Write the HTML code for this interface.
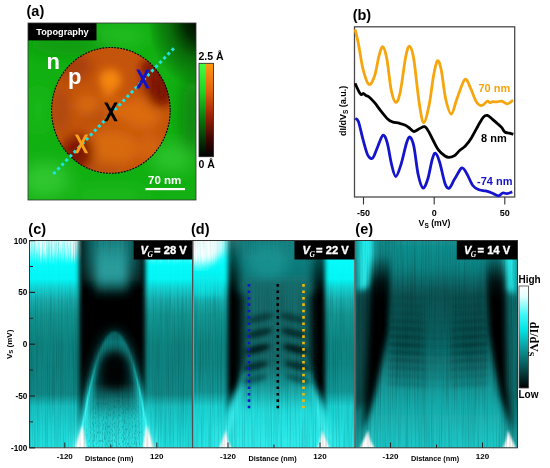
<!DOCTYPE html>
<html><head><meta charset="utf-8"><style>
html,body{margin:0;padding:0;background:#fff;}
body{width:550px;height:468px;overflow:hidden;}
svg{display:block;}
</style></head><body>
<svg width="550" height="468" viewBox="0 0 550 468">
<defs>
<filter id="streak" x="0" y="0" width="100%" height="100%">
  <feTurbulence type="fractalNoise" baseFrequency="0.7 0.012" numOctaves="2" seed="3" result="n"/>
  <feColorMatrix in="n" type="matrix" values="0 0 0 0 0  0 0 0 0 0  0 0 0 0 0  0 0 0 -2.2 1.35"/>
</filter>
<filter id="streakw" x="0" y="0" width="100%" height="100%">
  <feTurbulence type="fractalNoise" baseFrequency="0.6 0.02" numOctaves="2" seed="7" result="n"/>
  <feColorMatrix in="n" type="matrix" values="0 0 0 0 1  0 0 0 0 1  0 0 0 0 1  0 0 0 3.0 -1.4"/>
</filter>
<filter id="b1" x="-60%" y="-60%" width="220%" height="220%"><feGaussianBlur stdDeviation="1"/></filter>
<filter id="b2" x="-60%" y="-60%" width="220%" height="220%"><feGaussianBlur stdDeviation="2"/></filter>
<filter id="b3" x="-60%" y="-60%" width="220%" height="220%"><feGaussianBlur stdDeviation="3"/></filter>
<filter id="b4" x="-60%" y="-60%" width="220%" height="220%"><feGaussianBlur stdDeviation="4"/></filter>
<filter id="b6" x="-60%" y="-60%" width="220%" height="220%"><feGaussianBlur stdDeviation="6"/></filter>
<filter id="b8" x="-60%" y="-60%" width="220%" height="220%"><feGaussianBlur stdDeviation="8"/></filter>
<filter id="b12" x="-60%" y="-60%" width="220%" height="220%"><feGaussianBlur stdDeviation="12"/></filter>
<clipPath id="clipA"><rect x="28" y="23" width="168" height="177"/></clipPath>
<clipPath id="clipCirc"><ellipse cx="110.9" cy="110.4" rx="59.3" ry="62.9"/></clipPath>
<clipPath id="clipC"><rect x="29.5" y="240.5" width="162.5" height="207"/></clipPath>
<clipPath id="clipD"><rect x="193.5" y="240.5" width="161" height="207"/></clipPath>
<clipPath id="clipE"><rect x="355.5" y="240.5" width="162" height="207"/></clipPath>
<linearGradient id="cbG" x1="0" y1="0" x2="0" y2="1">
  <stop offset="0" stop-color="#44ff44"/><stop offset="0.3" stop-color="#20d420"/><stop offset="0.6" stop-color="#0a760a"/><stop offset="1" stop-color="#000"/>
</linearGradient>
<linearGradient id="cbO" x1="0" y1="0" x2="0" y2="1">
  <stop offset="0" stop-color="#ff9a10"/><stop offset="0.3" stop-color="#e06010"/><stop offset="0.55" stop-color="#a02408"/><stop offset="0.8" stop-color="#420604"/><stop offset="1" stop-color="#000"/>
</linearGradient>
<linearGradient id="cbC" x1="0" y1="0" x2="0" y2="1">
  <stop offset="0" stop-color="#ffffff"/><stop offset="0.1" stop-color="#e4ffff"/><stop offset="0.28" stop-color="#40f8f8"/><stop offset="0.42" stop-color="#04e6e6"/><stop offset="0.62" stop-color="#0c9696"/><stop offset="0.82" stop-color="#064a4a"/><stop offset="1" stop-color="#000"/>
</linearGradient>
<radialGradient id="gcorner" cx="0.5" cy="0.5" r="0.5">
  <stop offset="0" stop-color="#000" stop-opacity="1"/><stop offset="0.3" stop-color="#010" stop-opacity="0.85"/><stop offset="0.6" stop-color="#020" stop-opacity="0.45"/><stop offset="1" stop-color="#000" stop-opacity="0"/>
</radialGradient>
</defs>
<text x="26.5" y="16.4" font-family="'Liberation Sans', Arial, sans-serif" font-size="14.5" font-weight="bold">(a)</text>
<g clip-path="url(#clipA)">
<rect x="28" y="23" width="168" height="177" fill="#12b012"/>
<g filter="url(#b8)">
<ellipse cx="70" cy="45" rx="45" ry="10" fill="#0b960b" opacity="0.9"/>
<ellipse cx="120" cy="36" rx="28" ry="8" fill="#2ac42a" opacity="0.8"/>
<ellipse cx="45" cy="180" rx="25" ry="18" fill="#3acc3a" opacity="0.8"/>
<ellipse cx="110" cy="195" rx="40" ry="6" fill="#28c228" opacity="0.7"/>
<ellipse cx="172" cy="158" rx="22" ry="14" fill="#34c834" opacity="0.8"/>
<ellipse cx="192" cy="115" rx="10" ry="40" fill="#087808" opacity="0.85"/>
<ellipse cx="38" cy="110" rx="10" ry="25" fill="#1cbc1c" opacity="0.7"/>
</g>
<ellipse cx="200" cy="20" rx="52" ry="68" fill="url(#gcorner)"/>
<ellipse cx="110.9" cy="110.4" rx="59.3" ry="62.9" fill="#c4540c"/>
<g clip-path="url(#clipCirc)"><g filter="url(#b6)">
<ellipse cx="72" cy="66" rx="20" ry="14" fill="#a8400c"/>
<ellipse cx="60" cy="110" rx="10" ry="24" fill="#b04a0c"/>
<ellipse cx="93" cy="113" rx="14" ry="6" fill="#a8420c"/>
<ellipse cx="88" cy="105" rx="12" ry="10" fill="#d86a10"/>
<ellipse cx="142" cy="113" rx="20" ry="16" fill="#dc6a10"/>
<ellipse cx="118" cy="110" rx="12" ry="9" fill="#dc6c10"/>
<ellipse cx="112" cy="148" rx="26" ry="18" fill="#d86a10"/>
<ellipse cx="150" cy="148" rx="12" ry="14" fill="#d46410"/>
<ellipse cx="100" cy="168" rx="24" ry="6" fill="#b85010"/>
<ellipse cx="160" cy="84" rx="16" ry="24" fill="#801604"/>
<ellipse cx="78" cy="152" rx="16" ry="17" fill="#801604"/>
</g><g filter="url(#b4)">
<ellipse cx="110.2" cy="80" rx="11" ry="11" fill="#f5880f"/>
<ellipse cx="108" cy="92" rx="6" ry="6" fill="#ec7c10"/>
<ellipse cx="162" cy="90" rx="6" ry="12" fill="#7a1604"/>
<ellipse cx="150" cy="68" rx="9" ry="8" fill="#7e1805"/>
<ellipse cx="76" cy="155" rx="6" ry="7" fill="#7a1604"/>
</g></g>
<ellipse cx="110.9" cy="110.4" rx="59.3" ry="62.9" fill="none" stroke="#000" stroke-width="1.1" stroke-dasharray="1.8 1.2"/>
<line x1="53.4" y1="174" x2="175.1" y2="46.9" stroke="#1fe3e3" stroke-width="3" stroke-dasharray="3 2.9"/>
<polygon points="74.8,134.5 78.1,134.5 88.2,153.3 84.9,153.3" fill="#f6a21c"/><polygon points="84.9,134.5 88.2,134.5 78.1,153.3 74.8,153.3" fill="#f6a21c"/>
<polygon points="104.2,102.4 107.5,102.4 117.7,121.2 114.3,121.2" fill="#000"/><polygon points="114.3,102.4 117.7,102.4 107.5,121.2 104.2,121.2" fill="#000"/>
<polygon points="136.2,69.6 139.6,69.6 149.8,88.4 146.4,88.4" fill="#1212c8"/><polygon points="146.4,69.6 149.8,69.6 139.6,88.4 136.2,88.4" fill="#1212c8"/>
<text x="46.5" y="69.2" font-family="'Liberation Sans', Arial, sans-serif" font-size="22" font-weight="bold" fill="#fff">n</text>
<text x="68" y="83.8" font-family="'Liberation Sans', Arial, sans-serif" font-size="22" font-weight="bold" fill="#fff">p</text>
<text x="148" y="184" font-family="'Liberation Sans', Arial, sans-serif" font-size="11.5" font-weight="bold" fill="#fff">70 nm</text>
<rect x="145.5" y="188" width="39.5" height="2.2" fill="#fff"/>
<rect x="28" y="23" width="68.5" height="17.4" fill="#000"/>
<text x="36.3" y="35.3" font-family="'Liberation Sans', Arial, sans-serif" font-size="9.2" font-weight="bold" fill="#fff">Topography</text>
</g>
<rect x="28" y="23" width="168" height="177" fill="none" stroke="#333" stroke-width="0.8"/>
<rect x="199" y="63.3" width="7" height="93.4" fill="url(#cbG)"/>
<rect x="206" y="63.3" width="7.5" height="93.4" fill="url(#cbO)"/>
<rect x="199" y="63.3" width="14.5" height="93.4" fill="none" stroke="#222" stroke-width="0.8"/>
<text x="198.5" y="60" font-family="'Liberation Sans', Arial, sans-serif" font-size="10.5" font-weight="bold">2.5 Å</text>
<text x="198.5" y="167.5" font-family="'Liberation Sans', Arial, sans-serif" font-size="10.5" font-weight="bold">0 Å</text>
<text x="352.7" y="20.2" font-family="'Liberation Sans', Arial, sans-serif" font-size="14.5" font-weight="bold">(b)</text>
<rect x="354.5" y="26.8" width="160.2" height="170.2" fill="#fff" stroke="#4a4a4a" stroke-width="1.3"/>
<line x1="363.5" y1="197" x2="363.5" y2="204.5" stroke="#333" stroke-width="1.1"/>
<text x="363.5" y="216.4" text-anchor="middle" font-family="'Liberation Sans', Arial, sans-serif" font-size="9" font-weight="bold">-50</text>
<line x1="434.2" y1="197" x2="434.2" y2="204.5" stroke="#333" stroke-width="1.1"/>
<text x="434.2" y="216.4" text-anchor="middle" font-family="'Liberation Sans', Arial, sans-serif" font-size="9" font-weight="bold">0</text>
<line x1="504.8" y1="197" x2="504.8" y2="204.5" stroke="#333" stroke-width="1.1"/>
<text x="504.8" y="216.4" text-anchor="middle" font-family="'Liberation Sans', Arial, sans-serif" font-size="9" font-weight="bold">50</text>
<text x="418.6" y="226" font-family="'Liberation Sans', Arial, sans-serif" font-size="8.7" font-weight="bold">V<tspan font-size="6.5" dy="1.8">S</tspan><tspan dy="-1.8"> (mV)</tspan></text>
<text transform="translate(345.8,136) rotate(-90)" font-family="'Liberation Sans', Arial, sans-serif" font-size="9" font-weight="bold">dI/dV<tspan font-size="6.5" dy="1.8">S</tspan><tspan dy="-1.8"> (a.u.)</tspan></text>
<path d="M355.1,29.5 C355.7,32.1 357.4,38.5 358.7,45.2 C360.0,51.9 361.5,63.4 363.2,69.9 C364.9,76.4 366.9,83.3 368.8,84.4 C370.7,85.5 372.7,81.3 374.4,76.6 C376.1,71.9 377.5,61.4 378.9,56.4 C380.3,51.4 381.4,46.4 382.7,46.8 C384.0,47.2 385.4,51.4 386.8,58.6 C388.2,65.8 389.7,82.7 391.2,90.0 C392.7,97.3 394.2,102.0 395.7,102.4 C397.2,102.8 398.5,100.0 400.2,92.3 C401.9,84.6 404.2,64.1 405.8,56.4 C407.4,48.7 408.3,45.9 409.6,46.3 C410.9,46.7 412.1,49.1 413.7,58.6 C415.3,68.1 417.6,92.8 419.3,103.5 C421.0,114.2 422.1,122.6 423.8,122.6 C425.5,122.6 427.8,111.2 429.4,103.5 C431.0,95.8 432.1,83.7 433.4,76.6 C434.7,69.5 436.1,62.0 437.4,60.9 C438.7,59.8 439.8,63.4 441.2,69.8 C442.6,76.1 444.0,91.6 445.7,99.0 C447.4,106.4 449.4,114.2 451.3,114.2 C453.2,114.2 454.6,104.8 456.9,99.0 C459.1,93.2 462.6,81.4 464.8,79.5 C467.1,77.6 468.5,84.2 470.4,87.8 C472.3,91.4 474.1,98.2 476.0,101.2 C477.9,104.2 479.7,105.7 481.6,105.7 C483.5,105.7 485.8,101.7 487.2,101.2 C488.6,100.7 489.1,102.5 490.0,102.6 C490.9,102.7 491.6,101.8 492.8,101.7 C494.0,101.6 495.8,102.0 497.3,101.9 C498.8,101.8 500.0,100.9 501.7,101.2 C503.4,101.5 505.5,104.1 507.4,103.9 C509.3,103.7 512.1,100.7 513.0,100.1" fill="none" stroke="#f6a50c" stroke-width="2.8" stroke-linejoin="round"/>
<path d="M355.1,83.3 C355.5,84.2 356.6,87.0 357.6,88.9 C358.6,90.8 360.0,93.7 361.0,94.5 C362.0,95.3 362.7,93.3 363.5,93.5 C364.3,93.7 365.1,95.0 366.0,95.5 C366.9,96.0 367.4,95.6 368.8,96.8 C370.2,98.0 372.3,100.0 374.4,102.4 C376.5,104.8 378.9,108.5 381.2,111.3 C383.4,114.1 386.0,117.4 387.9,119.2 C389.8,121.0 390.5,121.2 392.4,121.9 C394.3,122.6 396.9,122.7 399.1,123.2 C401.3,123.8 403.6,124.3 405.4,125.2 C407.2,126.1 408.6,127.5 410.0,128.5 C411.4,129.6 412.3,131.4 413.9,131.5 C415.4,131.6 417.5,129.6 419.3,128.8 C421.1,128.0 423.0,126.2 424.6,126.7 C426.2,127.2 427.5,129.7 428.9,132.0 C430.3,134.3 431.6,137.5 433.2,140.5 C434.8,143.5 436.6,147.6 438.6,150.2 C440.6,152.8 443.2,154.8 445.0,156.0 C446.8,157.2 447.6,157.4 449.2,157.3 C450.8,157.2 452.8,156.8 454.6,155.6 C456.4,154.4 458.1,151.8 459.9,150.2 C461.7,148.6 463.3,148.1 465.3,146.0 C467.3,143.9 469.6,140.8 471.7,137.4 C473.8,134.0 476.2,129.1 478.1,125.7 C480.1,122.3 481.9,118.8 483.4,117.1 C484.9,115.4 485.9,115.1 487.3,115.4 C488.7,115.7 490.3,117.5 492.0,118.8 C493.7,120.1 495.7,122.1 497.3,123.5 C498.9,124.9 500.4,126.0 501.6,127.4 C502.9,128.8 503.6,131.1 504.8,132.0 C506.1,132.9 507.7,132.7 509.1,133.1 C510.5,133.5 512.7,134.0 513.4,134.2" fill="none" stroke="#000" stroke-width="2.8" stroke-linejoin="round"/>
<path d="M355.2,118.3 C355.7,118.8 357.1,118.1 358.4,121.4 C359.6,124.8 361.3,133.1 362.7,138.4 C364.1,143.7 365.9,150.2 367.0,153.4 C368.1,156.6 368.7,156.7 369.5,157.5 C370.3,158.3 371.2,158.8 372.0,158.5 C372.8,158.2 373.1,157.9 374.0,156.0 C374.9,154.1 376.1,150.5 377.6,147.0 C379.1,143.5 381.4,135.9 383.0,135.2 C384.6,134.5 385.8,137.9 387.2,142.7 C388.6,147.5 390.1,158.5 391.5,164.1 C392.9,169.7 394.2,176.5 395.8,176.5 C397.4,176.5 399.3,169.7 401.1,164.1 C402.9,158.5 405.1,147.2 406.6,142.7 C408.1,138.2 409.0,136.5 410.2,137.2 C411.4,137.9 412.7,140.7 414.0,147.0 C415.3,153.3 416.7,168.0 418.2,174.8 C419.7,181.6 421.3,187.3 422.9,188.0 C424.5,188.7 426.3,183.7 427.8,179.0 C429.3,174.3 430.9,164.1 432.1,159.8 C433.4,155.5 434.1,152.8 435.3,153.2 C436.6,153.6 438.0,157.0 439.6,162.0 C441.2,167.0 443.4,179.1 445.0,183.4 C446.6,187.8 447.6,188.8 449.2,188.1 C450.8,187.4 452.5,182.4 454.6,179.1 C456.7,175.8 459.7,169.1 461.6,168.0 C463.6,166.9 464.4,169.8 466.3,172.7 C468.2,175.6 470.7,182.7 472.8,185.5 C474.9,188.3 477.1,188.9 479.2,189.8 C481.3,190.7 483.5,190.4 485.6,190.9 C487.7,191.4 489.9,192.2 492.0,193.0 C494.1,193.8 496.6,195.8 498.4,195.8 C500.2,195.8 501.3,193.4 502.7,193.0 C504.1,192.6 505.4,193.8 507.0,193.6 C508.6,193.4 511.4,192.2 512.3,191.9" fill="none" stroke="#1414cc" stroke-width="2.8" stroke-linejoin="round"/>
<text x="478.5" y="92.3" font-family="'Liberation Sans', Arial, sans-serif" font-size="11" font-weight="bold" fill="#f6a50c">70 nm</text>
<text x="481" y="142" font-family="'Liberation Sans', Arial, sans-serif" font-size="11" font-weight="bold" fill="#000">8 nm</text>
<text x="477" y="185.3" font-family="'Liberation Sans', Arial, sans-serif" font-size="11" font-weight="bold" fill="#1414cc">-74 nm</text>
<defs>
<filter id="sk" x="0" y="0" width="100%" height="100%">
  <feTurbulence type="fractalNoise" baseFrequency="1.3 0.012" numOctaves="2" seed="5" result="n"/>
  <feColorMatrix in="n" type="matrix" values="0 0 0 0 0  0 0 0 0 0  0 0 0 0 0  2.0 0 0 0 -0.8"/>
</filter>
<filter id="skw" x="0" y="0" width="100%" height="100%">
  <feTurbulence type="fractalNoise" baseFrequency="1.0 0.03" numOctaves="2" seed="11" result="n"/>
  <feColorMatrix in="n" type="matrix" values="0 0 0 0 1  0 0 0 0 1  0 0 0 0 1  3.2 0 0 0 -1.3"/>
</filter>
<filter id="speck" x="0" y="0" width="100%" height="100%">
  <feTurbulence type="fractalNoise" baseFrequency="0.9 0.35" numOctaves="1" seed="2" result="n"/>
  <feColorMatrix in="n" type="matrix" values="0 0 0 0 0  0 0 0 0 0.1  0 0 0 0 0.1  5 0 0 0 -2.6"/>
</filter>
<linearGradient id="fadeTop" x1="0" y1="240.5" x2="0" y2="266" gradientUnits="userSpaceOnUse">
 <stop offset="0" stop-color="#fff"/><stop offset="0.5" stop-color="#fff" stop-opacity="0.7"/><stop offset="1" stop-color="#fff" stop-opacity="0"/>
</linearGradient>
<mask id="mTop" maskUnits="userSpaceOnUse" x="0" y="230" width="550" height="240"><rect x="0" y="230" width="550" height="40" fill="url(#fadeTop)"/></mask>
<linearGradient id="skFade" x1="0" y1="240.5" x2="0" y2="447.8" gradientUnits="userSpaceOnUse">
 <stop offset="0" stop-color="#fff" stop-opacity="0.5"/>
 <stop offset="0.09" stop-color="#fff" stop-opacity="0.05"/>
 <stop offset="0.19" stop-color="#fff" stop-opacity="0.05"/>
 <stop offset="0.29" stop-color="#fff" stop-opacity="0.6"/>
 <stop offset="1" stop-color="#fff" stop-opacity="0.6"/>
</linearGradient>
<mask id="mSk" maskUnits="userSpaceOnUse" x="0" y="230" width="550" height="240"><rect x="0" y="230" width="550" height="240" fill="url(#skFade)"/></mask>
<linearGradient id="bgC" x1="0" y1="240.5" x2="0" y2="447.8" gradientUnits="userSpaceOnUse">
 <stop offset="0" stop-color="#5ff8f8"/>
 <stop offset="0.09" stop-color="#06fcfc"/>
 <stop offset="0.185" stop-color="#04f6f6"/>
 <stop offset="0.23" stop-color="#12d2d2"/>
 <stop offset="0.29" stop-color="#18acac"/>
 <stop offset="0.36" stop-color="#129692"/>
 <stop offset="0.5" stop-color="#0e8480"/>
 <stop offset="0.6" stop-color="#0e8280"/>
 <stop offset="0.74" stop-color="#108886"/>
 <stop offset="0.8" stop-color="#18c0c0"/>
 <stop offset="0.9" stop-color="#1cd2d2"/>
 <stop offset="1" stop-color="#22e0e0"/>
</linearGradient>
<linearGradient id="speckFade" x1="0" y1="380" x2="0" y2="447.8" gradientUnits="userSpaceOnUse">
 <stop offset="0" stop-color="#fff" stop-opacity="0"/><stop offset="0.3" stop-color="#fff" stop-opacity="0.8"/><stop offset="1" stop-color="#fff" stop-opacity="1"/>
</linearGradient>
<mask id="mSpeck" maskUnits="userSpaceOnUse" x="0" y="370" width="550" height="90"><rect x="0" y="370" width="550" height="90" fill="url(#speckFade)"/></mask>
<linearGradient id="archIn" x1="0" y1="331" x2="0" y2="447.8" gradientUnits="userSpaceOnUse">
 <stop offset="0" stop-color="#0a4a4a"/>
 <stop offset="0.1" stop-color="#127070"/>
 <stop offset="0.17" stop-color="#0e5c5c"/>
 <stop offset="0.27" stop-color="#062a2a"/>
 <stop offset="0.45" stop-color="#062626"/>
 <stop offset="0.58" stop-color="#127474"/>
 <stop offset="0.75" stop-color="#20c8c8"/>
 <stop offset="1" stop-color="#30eeee"/>
</linearGradient>
<linearGradient id="colTopC2" x1="0" y1="240" x2="0" y2="284" gradientUnits="userSpaceOnUse">
 <stop offset="0" stop-color="#0e5c5c"/><stop offset="0.6" stop-color="#0b4e4e"/><stop offset="1" stop-color="#062828"/>
</linearGradient>
<linearGradient id="colGlow" x1="0" y1="240" x2="0" y2="298" gradientUnits="userSpaceOnUse">
 <stop offset="0" stop-color="#1a8282"/>
 <stop offset="0.35" stop-color="#289a9a"/>
 <stop offset="0.65" stop-color="#2a9c9c"/>
 <stop offset="0.85" stop-color="#125e5e" stop-opacity="0.8"/>
 <stop offset="1" stop-color="#000" stop-opacity="0"/>
</linearGradient>
<linearGradient id="archGlow" x1="0" y1="329" x2="0" y2="447.8" gradientUnits="userSpaceOnUse">
 <stop offset="0" stop-color="#20e0e0" stop-opacity="0.1"/>
 <stop offset="0.4" stop-color="#20e0e0" stop-opacity="0.25"/>
 <stop offset="0.75" stop-color="#28f0f0" stop-opacity="0.6"/>
 <stop offset="1" stop-color="#40ffff" stop-opacity="0.85"/>
</linearGradient>
<linearGradient id="archCore" x1="0" y1="329" x2="0" y2="447.8" gradientUnits="userSpaceOnUse">
 <stop offset="0" stop-color="#20e0e0" stop-opacity="0"/>
 <stop offset="0.3" stop-color="#20e0e0" stop-opacity="0.15"/>
 <stop offset="0.55" stop-color="#28eeee" stop-opacity="0.7"/>
 <stop offset="0.8" stop-color="#40ffff" stop-opacity="1"/>
 <stop offset="1" stop-color="#e0ffff" stop-opacity="1"/>
</linearGradient>
<linearGradient id="archStroke" x1="0" y1="329" x2="0" y2="447.8" gradientUnits="userSpaceOnUse">
 <stop offset="0" stop-color="#0f6a6a" stop-opacity="0.25"/>
 <stop offset="0.3" stop-color="#14a0a0" stop-opacity="0.7"/>
 <stop offset="0.6" stop-color="#20e4e4"/>
 <stop offset="0.85" stop-color="#40ffff"/>
 <stop offset="1" stop-color="#c0ffff"/>
</linearGradient>
<linearGradient id="colTopC" x1="0" y1="240.5" x2="0" y2="300" gradientUnits="userSpaceOnUse">
 <stop offset="0" stop-color="#1a8080"/>
 <stop offset="0.5" stop-color="#136a6a"/>
 <stop offset="0.75" stop-color="#0a3a3a"/>
 <stop offset="1" stop-color="#000"/>
</linearGradient>
<linearGradient id="centerE" x1="0" y1="240.5" x2="0" y2="447.8" gradientUnits="userSpaceOnUse">
 <stop offset="0" stop-color="#129494"/>
 <stop offset="0.13" stop-color="#108484"/>
 <stop offset="0.25" stop-color="#0a5454"/>
 <stop offset="0.45" stop-color="#0f6a6a"/>
 <stop offset="0.65" stop-color="#148c8c"/>
 <stop offset="0.8" stop-color="#18acac"/>
 <stop offset="1" stop-color="#20c8c8"/>
</linearGradient>
<linearGradient id="centerD" x1="0" y1="240.5" x2="0" y2="447.8" gradientUnits="userSpaceOnUse">
 <stop offset="0" stop-color="#0d5a5a"/>
 <stop offset="0.2" stop-color="#0a4a4a"/>
 <stop offset="0.45" stop-color="#0e5a5a"/>
 <stop offset="0.7" stop-color="#139090"/>
 <stop offset="0.8" stop-color="#1cd0d0"/>
 <stop offset="1" stop-color="#22e4e4"/>
</linearGradient>
<linearGradient id="botD" x1="0" y1="364" x2="0" y2="447.8" gradientUnits="userSpaceOnUse">
 <stop offset="0" stop-color="#146e6e"/>
 <stop offset="0.3" stop-color="#1aa4a4"/>
 <stop offset="0.55" stop-color="#24dede"/>
 <stop offset="1" stop-color="#30ecec"/>
</linearGradient>
<linearGradient id="fadeTop2" x1="0" y1="240.5" x2="0" y2="270" gradientUnits="userSpaceOnUse">
 <stop offset="0" stop-color="#fff"/><stop offset="0.6" stop-color="#fff" stop-opacity="0.8"/><stop offset="1" stop-color="#fff" stop-opacity="0"/>
</linearGradient>
<mask id="mTop2" maskUnits="userSpaceOnUse" x="0" y="230" width="550" height="240"><rect x="0" y="230" width="550" height="45" fill="url(#fadeTop2)"/></mask>
<filter id="skw2" x="0" y="0" width="100%" height="100%">
  <feTurbulence type="fractalNoise" baseFrequency="1.0 0.03" numOctaves="2" seed="11" result="n"/>
  <feColorMatrix in="n" type="matrix" values="0 0 0 0 1  0 0 0 0 1  0 0 0 0 1  3.2 0 0 0 -0.9"/>
</filter>
<linearGradient id="bandE" x1="0" y1="255" x2="0" y2="300" gradientUnits="userSpaceOnUse">
 <stop offset="0" stop-color="#000" stop-opacity="0"/><stop offset="0.6" stop-color="#000" stop-opacity="0.85"/><stop offset="1" stop-color="#000" stop-opacity="1"/>
</linearGradient>
<linearGradient id="bandD" x1="0" y1="240" x2="0" y2="300" gradientUnits="userSpaceOnUse">
 <stop offset="0" stop-color="#000" stop-opacity="0.55"/><stop offset="0.5" stop-color="#000" stop-opacity="0.8"/><stop offset="1" stop-color="#000" stop-opacity="1"/>
</linearGradient>
<linearGradient id="topD" x1="0" y1="240" x2="0" y2="294" gradientUnits="userSpaceOnUse">
 <stop offset="0" stop-color="#138484"/><stop offset="0.55" stop-color="#117a7a"/><stop offset="1" stop-color="#146c6c"/>
</linearGradient>
<radialGradient id="rgTopD" cx="193" cy="240" r="36" gradientUnits="userSpaceOnUse" gradientTransform="translate(193 240) scale(0.9 1) translate(-193 -240)">
 <stop offset="0" stop-color="#fff"/><stop offset="0.5" stop-color="#fff" stop-opacity="0.8"/><stop offset="1" stop-color="#fff" stop-opacity="0"/>
</radialGradient>
<mask id="mTopD" maskUnits="userSpaceOnUse" x="180" y="230" width="80" height="60"><rect x="180" y="230" width="80" height="60" fill="url(#rgTopD)"/></mask>
<linearGradient id="bgD" x1="0" y1="240.5" x2="0" y2="447.8" gradientUnits="userSpaceOnUse">
 <stop offset="0" stop-color="#5ff8f8"/>
 <stop offset="0.09" stop-color="#06fcfc"/>
 <stop offset="0.185" stop-color="#04f6f6"/>
 <stop offset="0.23" stop-color="#12d2d2"/>
 <stop offset="0.29" stop-color="#18acac"/>
 <stop offset="0.36" stop-color="#129692"/>
 <stop offset="0.5" stop-color="#0e8682"/>
 <stop offset="0.6" stop-color="#0f8684"/>
 <stop offset="0.73" stop-color="#139898"/>
 <stop offset="0.8" stop-color="#1cd4d4"/>
 <stop offset="1" stop-color="#26e6e6"/>
</linearGradient>
<linearGradient id="bandD2" x1="0" y1="240" x2="0" y2="425" gradientUnits="userSpaceOnUse">
 <stop offset="0" stop-color="#000" stop-opacity="0.55"/><stop offset="0.16" stop-color="#000" stop-opacity="0.8"/><stop offset="0.3" stop-color="#000" stop-opacity="1"/><stop offset="0.8" stop-color="#000" stop-opacity="1"/><stop offset="1" stop-color="#000" stop-opacity="0"/>
</linearGradient>
<linearGradient id="edgeD" x1="0" y1="370" x2="0" y2="440" gradientUnits="userSpaceOnUse">
 <stop offset="0" stop-color="#30f0f0" stop-opacity="0"/><stop offset="0.4" stop-color="#30f4f4" stop-opacity="0.7"/><stop offset="1" stop-color="#60ffff" stop-opacity="0.9"/>
</linearGradient>
<linearGradient id="whiteTop" x1="0" y1="240.5" x2="0" y2="264" gradientUnits="userSpaceOnUse">
 <stop offset="0" stop-color="#fff" stop-opacity="0.55"/><stop offset="0.5" stop-color="#fff" stop-opacity="0.3"/><stop offset="1" stop-color="#fff" stop-opacity="0"/>
</linearGradient>
<linearGradient id="bgE" x1="0" y1="240.5" x2="0" y2="447.8" gradientUnits="userSpaceOnUse">
 <stop offset="0" stop-color="#108888"/>
 <stop offset="0.3" stop-color="#0e6a6a"/>
 <stop offset="0.75" stop-color="#0e6a6a"/>
 <stop offset="1" stop-color="#16a0a0"/>
</linearGradient>
</defs>
<text x="28.3" y="233.7" font-family="'Liberation Sans', Arial, sans-serif" font-size="14.5" font-weight="bold">(c)</text>
<g clip-path="url(#clipC)">
<rect x="29.5" y="240.5" width="162.5" height="207.3" fill="url(#bgC)"/>
<rect x="29.5" y="240.5" width="162.5" height="24" fill="url(#whiteTop)"/>
<g mask="url(#mTop)"><rect x="29.5" y="240.5" width="162.5" height="26" fill="#fff" filter="url(#skw)"/></g>
<rect x="79.5" y="232" width="65.5" height="230" fill="#000" filter="url(#b2)"/>
<rect x="83" y="232" width="58" height="52" fill="url(#colTopC2)" filter="url(#b4)"/>
<rect x="95" y="232" width="33" height="66" fill="url(#colGlow)" filter="url(#b4)"/>
<clipPath id="clipArch"><path d="M76.7,452.0 C77.0,450.7 77.7,447.3 78.5,444.0 C79.3,440.7 80.5,436.0 81.4,432.0 C82.3,428.0 83.1,424.0 83.9,420.0 C84.7,416.0 85.3,412.0 86.1,408.0 C86.8,404.0 87.6,399.8 88.4,396.0 C89.2,392.2 90.0,388.5 90.7,385.0 C91.5,381.5 92.3,378.2 93.1,375.0 C93.8,371.8 94.6,368.8 95.4,366.0 C96.2,363.2 97.0,360.5 97.8,358.0 C98.6,355.5 99.4,353.2 100.1,351.0 C100.9,348.8 101.7,346.8 102.6,345.0 C103.4,343.2 104.2,341.4 105.0,340.0 C105.8,338.6 106.5,337.5 107.2,336.5 C108.0,335.5 108.7,334.7 109.4,334.0 C110.0,333.3 110.4,332.9 111.2,332.5 C112.1,332.1 113.4,331.5 114.5,331.5 C115.6,331.5 116.9,332.1 117.8,332.5 C118.6,332.9 119.0,333.3 119.6,334.0 C120.3,334.7 121.0,335.5 121.8,336.5 C122.5,337.5 123.2,338.6 124.0,340.0 C124.8,341.4 125.6,343.2 126.4,345.0 C127.3,346.8 128.1,348.8 128.9,351.0 C129.6,353.2 130.4,355.5 131.2,358.0 C132.0,360.5 132.8,363.2 133.6,366.0 C134.4,368.8 135.2,371.8 135.9,375.0 C136.7,378.2 137.5,381.5 138.3,385.0 C139.0,388.5 139.8,392.2 140.6,396.0 C141.4,399.8 142.2,404.0 142.9,408.0 C143.7,412.0 144.3,416.0 145.1,420.0 C145.9,424.0 146.7,428.0 147.6,432.0 C148.5,436.0 149.7,440.7 150.5,444.0 C151.3,447.3 152.0,450.7 152.3,452.0 Z"/></clipPath>
<path d="M76.7,452.0 C77.0,450.7 77.7,447.3 78.5,444.0 C79.3,440.7 80.5,436.0 81.4,432.0 C82.3,428.0 83.1,424.0 83.9,420.0 C84.7,416.0 85.3,412.0 86.1,408.0 C86.8,404.0 87.6,399.8 88.4,396.0 C89.2,392.2 90.0,388.5 90.7,385.0 C91.5,381.5 92.3,378.2 93.1,375.0 C93.8,371.8 94.6,368.8 95.4,366.0 C96.2,363.2 97.0,360.5 97.8,358.0 C98.6,355.5 99.4,353.2 100.1,351.0 C100.9,348.8 101.7,346.8 102.6,345.0 C103.4,343.2 104.2,341.4 105.0,340.0 C105.8,338.6 106.5,337.5 107.2,336.5 C108.0,335.5 108.7,334.7 109.4,334.0 C110.0,333.3 110.4,332.9 111.2,332.5 C112.1,332.1 113.4,331.5 114.5,331.5 C115.6,331.5 116.9,332.1 117.8,332.5 C118.6,332.9 119.0,333.3 119.6,334.0 C120.3,334.7 121.0,335.5 121.8,336.5 C122.5,337.5 123.2,338.6 124.0,340.0 C124.8,341.4 125.6,343.2 126.4,345.0 C127.3,346.8 128.1,348.8 128.9,351.0 C129.6,353.2 130.4,355.5 131.2,358.0 C132.0,360.5 132.8,363.2 133.6,366.0 C134.4,368.8 135.2,371.8 135.9,375.0 C136.7,378.2 137.5,381.5 138.3,385.0 C139.0,388.5 139.8,392.2 140.6,396.0 C141.4,399.8 142.2,404.0 142.9,408.0 C143.7,412.0 144.3,416.0 145.1,420.0 C145.9,424.0 146.7,428.0 147.6,432.0 C148.5,436.0 149.7,440.7 150.5,444.0 C151.3,447.3 152.0,450.7 152.3,452.0 Z" fill="url(#archIn)" filter="url(#b1)"/>
<g clip-path="url(#clipArch)">
<ellipse cx="114.5" cy="370" rx="16" ry="18" fill="#000" filter="url(#b4)" opacity="0.9"/>
<rect x="70" y="375" width="90" height="75" fill="#000" filter="url(#speck)" mask="url(#mSpeck)" opacity="0.3"/>
</g>
<path d="M76.7,452.0 C77.0,450.7 77.7,447.3 78.5,444.0 C79.3,440.7 80.5,436.0 81.4,432.0 C82.3,428.0 83.1,424.0 83.9,420.0 C84.7,416.0 85.3,412.0 86.1,408.0 C86.8,404.0 87.6,399.8 88.4,396.0 C89.2,392.2 90.0,388.5 90.7,385.0 C91.5,381.5 92.3,378.2 93.1,375.0 C93.8,371.8 94.6,368.8 95.4,366.0 C96.2,363.2 97.0,360.5 97.8,358.0 C98.6,355.5 99.4,353.2 100.1,351.0 C100.9,348.8 101.7,346.8 102.6,345.0 C103.4,343.2 104.2,341.4 105.0,340.0 C105.8,338.6 106.5,337.5 107.2,336.5 C108.0,335.5 108.7,334.7 109.4,334.0 C110.0,333.3 110.4,332.9 111.2,332.5 C112.1,332.1 113.4,331.5 114.5,331.5 C115.6,331.5 116.9,332.1 117.8,332.5 C118.6,332.9 119.0,333.3 119.6,334.0 C120.3,334.7 121.0,335.5 121.8,336.5 C122.5,337.5 123.2,338.6 124.0,340.0 C124.8,341.4 125.6,343.2 126.4,345.0 C127.3,346.8 128.1,348.8 128.9,351.0 C129.6,353.2 130.4,355.5 131.2,358.0 C132.0,360.5 132.8,363.2 133.6,366.0 C134.4,368.8 135.2,371.8 135.9,375.0 C136.7,378.2 137.5,381.5 138.3,385.0 C139.0,388.5 139.8,392.2 140.6,396.0 C141.4,399.8 142.2,404.0 142.9,408.0 C143.7,412.0 144.3,416.0 145.1,420.0 C145.9,424.0 146.7,428.0 147.6,432.0 C148.5,436.0 149.7,440.7 150.5,444.0 C151.3,447.3 152.0,450.7 152.3,452.0" fill="none" stroke="url(#archGlow)" stroke-width="12" filter="url(#b4)"/>
<path d="M76.7,452.0 C77.0,450.7 77.7,447.3 78.5,444.0 C79.3,440.7 80.5,436.0 81.4,432.0 C82.3,428.0 83.1,424.0 83.9,420.0 C84.7,416.0 85.3,412.0 86.1,408.0 C86.8,404.0 87.6,399.8 88.4,396.0 C89.2,392.2 90.0,388.5 90.7,385.0 C91.5,381.5 92.3,378.2 93.1,375.0 C93.8,371.8 94.6,368.8 95.4,366.0 C96.2,363.2 97.0,360.5 97.8,358.0 C98.6,355.5 99.4,353.2 100.1,351.0 C100.9,348.8 101.7,346.8 102.6,345.0 C103.4,343.2 104.2,341.4 105.0,340.0 C105.8,338.6 106.5,337.5 107.2,336.5 C108.0,335.5 108.7,334.7 109.4,334.0 C110.0,333.3 110.4,332.9 111.2,332.5 C112.1,332.1 113.4,331.5 114.5,331.5 C115.6,331.5 116.9,332.1 117.8,332.5 C118.6,332.9 119.0,333.3 119.6,334.0 C120.3,334.7 121.0,335.5 121.8,336.5 C122.5,337.5 123.2,338.6 124.0,340.0 C124.8,341.4 125.6,343.2 126.4,345.0 C127.3,346.8 128.1,348.8 128.9,351.0 C129.6,353.2 130.4,355.5 131.2,358.0 C132.0,360.5 132.8,363.2 133.6,366.0 C134.4,368.8 135.2,371.8 135.9,375.0 C136.7,378.2 137.5,381.5 138.3,385.0 C139.0,388.5 139.8,392.2 140.6,396.0 C141.4,399.8 142.2,404.0 142.9,408.0 C143.7,412.0 144.3,416.0 145.1,420.0 C145.9,424.0 146.7,428.0 147.6,432.0 C148.5,436.0 149.7,440.7 150.5,444.0 C151.3,447.3 152.0,450.7 152.3,452.0" fill="none" stroke="url(#archStroke)" stroke-width="5" filter="url(#b2)" opacity="0.9"/>
<path d="M76.7,452.0 C77.0,450.7 77.7,447.3 78.5,444.0 C79.3,440.7 80.5,436.0 81.4,432.0 C82.3,428.0 83.1,424.0 83.9,420.0 C84.7,416.0 85.3,412.0 86.1,408.0 C86.8,404.0 87.6,399.8 88.4,396.0 C89.2,392.2 90.0,388.5 90.7,385.0 C91.5,381.5 92.3,378.2 93.1,375.0 C93.8,371.8 94.6,368.8 95.4,366.0 C96.2,363.2 97.0,360.5 97.8,358.0 C98.6,355.5 99.4,353.2 100.1,351.0 C100.9,348.8 101.7,346.8 102.6,345.0 C103.4,343.2 104.2,341.4 105.0,340.0 C105.8,338.6 106.5,337.5 107.2,336.5 C108.0,335.5 108.7,334.7 109.4,334.0 C110.0,333.3 110.4,332.9 111.2,332.5 C112.1,332.1 113.4,331.5 114.5,331.5 C115.6,331.5 116.9,332.1 117.8,332.5 C118.6,332.9 119.0,333.3 119.6,334.0 C120.3,334.7 121.0,335.5 121.8,336.5 C122.5,337.5 123.2,338.6 124.0,340.0 C124.8,341.4 125.6,343.2 126.4,345.0 C127.3,346.8 128.1,348.8 128.9,351.0 C129.6,353.2 130.4,355.5 131.2,358.0 C132.0,360.5 132.8,363.2 133.6,366.0 C134.4,368.8 135.2,371.8 135.9,375.0 C136.7,378.2 137.5,381.5 138.3,385.0 C139.0,388.5 139.8,392.2 140.6,396.0 C141.4,399.8 142.2,404.0 142.9,408.0 C143.7,412.0 144.3,416.0 145.1,420.0 C145.9,424.0 146.7,428.0 147.6,432.0 C148.5,436.0 149.7,440.7 150.5,444.0 C151.3,447.3 152.0,450.7 152.3,452.0" fill="none" stroke="url(#archCore)" stroke-width="2"/>
<path d="M75.5,449 C77.5,440 80,432 82.5,425 C84,432 85,440 86.5,449 Z" fill="#fff" filter="url(#b1)"/>
<path d="M142.5,449 C144,440 145,432 146.5,425 C149,432 151.5,440 153.5,449 Z" fill="#fff" filter="url(#b1)"/>
<rect x="29.5" y="240.5" width="162.5" height="207.3" fill="#000" filter="url(#sk)" mask="url(#mSk)" opacity="0.3"/>
</g>
<text x="191" y="233.7" font-family="'Liberation Sans', Arial, sans-serif" font-size="14.5" font-weight="bold">(d)</text>
<g clip-path="url(#clipD)">
<rect x="193.5" y="240.5" width="161" height="207.3" fill="url(#bgD)"/>
<rect x="190" y="276" width="32" height="20" fill="#10e6e6" filter="url(#b4)" opacity="0.7"/>
<ellipse cx="204" cy="244" rx="20" ry="18" fill="#f4ffff" filter="url(#b4)" opacity="0.95"/>
<g mask="url(#mTopD)"><rect x="193.5" y="240.5" width="40" height="30" fill="#fff" filter="url(#skw2)"/></g>
<path d="M228,232 L325,232 L325,395 L328,425 L224,425 L228,395 Z" fill="url(#bandD2)" filter="url(#b2)"/>
<path d="M238,232 L314,232 L312,294 L240,294 Z" fill="url(#topD)" filter="url(#b4)"/>
<ellipse cx="268" cy="262" rx="20" ry="18" fill="#1a9898" filter="url(#b6)" opacity="0.7"/>
<path d="M243,282 L310,282 L311,380 L242,380 Z" fill="#146c6c" filter="url(#b4)"/>
<path d="M244,364 C240,385 230,405 214,430 L214,452 L338,452 L338,430 C323,405 313,385 309,364 Z" fill="url(#botD)" filter="url(#b3)"/>
<ellipse cx="260.5" cy="318.0" rx="13" ry="4" fill="#031c1c" opacity="0.55" filter="url(#b2)" transform="rotate(-14 260.5 318.0)"/>
<ellipse cx="292.5" cy="318.0" rx="13" ry="4" fill="#031c1c" opacity="0.55" filter="url(#b2)" transform="rotate(14 292.5 318.0)"/>
<ellipse cx="259.5" cy="333.0" rx="13" ry="4" fill="#031c1c" opacity="0.75" filter="url(#b2)" transform="rotate(-14 259.5 333.0)"/>
<ellipse cx="293.5" cy="333.0" rx="13" ry="4" fill="#031c1c" opacity="0.75" filter="url(#b2)" transform="rotate(14 293.5 333.0)"/>
<ellipse cx="257.5" cy="349.0" rx="13" ry="4" fill="#031c1c" opacity="0.95" filter="url(#b2)" transform="rotate(-14 257.5 349.0)"/>
<ellipse cx="295.5" cy="349.0" rx="13" ry="4" fill="#031c1c" opacity="0.95" filter="url(#b2)" transform="rotate(14 295.5 349.0)"/>
<ellipse cx="255.5" cy="366.0" rx="13" ry="4" fill="#031c1c" opacity="0.75" filter="url(#b2)" transform="rotate(-14 255.5 366.0)"/>
<ellipse cx="297.5" cy="366.0" rx="13" ry="4" fill="#031c1c" opacity="0.75" filter="url(#b2)" transform="rotate(14 297.5 366.0)"/>
<ellipse cx="254.5" cy="379.0" rx="13" ry="4" fill="#031c1c" opacity="0.45" filter="url(#b2)" transform="rotate(-14 254.5 379.0)"/>
<ellipse cx="298.5" cy="379.0" rx="13" ry="4" fill="#031c1c" opacity="0.45" filter="url(#b2)" transform="rotate(14 298.5 379.0)"/>
<path d="M243,372 C240,395 234,415 224,440" fill="none" stroke="url(#edgeD)" stroke-width="4" filter="url(#b2)"/>
<path d="M310,372 C313,395 319,415 328,440" fill="none" stroke="url(#edgeD)" stroke-width="4" filter="url(#b2)"/>
<path d="M219,449 C222,440 224,436 226,430 C227,438 229,444 232,449 Z" fill="#fff" filter="url(#b1)"/>
<path d="M317,449 C319,444 321,438 322,430 C324,436 327,440 330,449 Z" fill="#fff" filter="url(#b1)"/>
<rect x="193.5" y="240.5" width="161" height="207.3" fill="#000" filter="url(#sk)" mask="url(#mSk)" opacity="0.3"/>
</g>
<line x1="249" y1="284.1" x2="249" y2="409" stroke="#1515d0" stroke-width="2.6" stroke-dasharray="2.6 3.8"/>
<line x1="277.8" y1="284.1" x2="277.8" y2="409" stroke="#000" stroke-width="2.6" stroke-dasharray="2.6 3.8"/>
<line x1="303.5" y1="284.1" x2="303.5" y2="409" stroke="#f5b800" stroke-width="2.6" stroke-dasharray="2.6 3.8"/>
<text x="355.3" y="233.7" font-family="'Liberation Sans', Arial, sans-serif" font-size="14.5" font-weight="bold">(e)</text>
<g clip-path="url(#clipE)">
<rect x="355.5" y="240.5" width="162" height="207.3" fill="url(#bgE)"/>
<path d="M359,232 L373,232 L373,285 L359,292 Z" fill="#25f4f4" filter="url(#b3)"/>
<path d="M504,250 L516,250 L516,294 L504,290 Z" fill="#25f0f0" filter="url(#b3)"/>
<path d="M355,292 L370,292 L370,400 L355,410 Z" fill="#083c3c" filter="url(#b3)" opacity="0.8"/>
<path d="M371,250 L395,250 L391,340 L379,395 L364,430 L366,380 Z" fill="url(#bandE)" filter="url(#b3)"/>
<path d="M480,250 L505,250 L507,385 L512,430 L499,395 L487,340 Z" fill="url(#bandE)" filter="url(#b3)"/>
<path d="M392,232 L485,232 L488,330 C494,380 503,420 510,452 L362,452 C369,420 379,380 389,330 Z" fill="url(#centerE)" filter="url(#b3)"/>
<ellipse cx="406" cy="298.0" rx="20" ry="2.6" fill="#021a1a" opacity="0.22" filter="url(#b2)" transform="rotate(3 406 298.0)"/>
<ellipse cx="470" cy="298.0" rx="20" ry="2.6" fill="#021a1a" opacity="0.22" filter="url(#b2)" transform="rotate(-3 470 298.0)"/>
<ellipse cx="438" cy="299.5" rx="20" ry="2.4" fill="#021a1a" opacity="0.08" filter="url(#b2)"/>
<ellipse cx="406" cy="305.8" rx="20" ry="2.6" fill="#021a1a" opacity="0.33" filter="url(#b2)" transform="rotate(3 406 305.8)"/>
<ellipse cx="470" cy="305.8" rx="20" ry="2.6" fill="#021a1a" opacity="0.33" filter="url(#b2)" transform="rotate(-3 470 305.8)"/>
<ellipse cx="438" cy="307.3" rx="20" ry="2.4" fill="#021a1a" opacity="0.12" filter="url(#b2)"/>
<ellipse cx="406" cy="313.6" rx="20" ry="2.6" fill="#021a1a" opacity="0.43" filter="url(#b2)" transform="rotate(3 406 313.6)"/>
<ellipse cx="470" cy="313.6" rx="20" ry="2.6" fill="#021a1a" opacity="0.43" filter="url(#b2)" transform="rotate(-3 470 313.6)"/>
<ellipse cx="438" cy="315.1" rx="20" ry="2.4" fill="#021a1a" opacity="0.15" filter="url(#b2)"/>
<ellipse cx="406" cy="321.4" rx="20" ry="2.6" fill="#021a1a" opacity="0.54" filter="url(#b2)" transform="rotate(3 406 321.4)"/>
<ellipse cx="470" cy="321.4" rx="20" ry="2.6" fill="#021a1a" opacity="0.54" filter="url(#b2)" transform="rotate(-3 470 321.4)"/>
<ellipse cx="438" cy="322.9" rx="20" ry="2.4" fill="#021a1a" opacity="0.19" filter="url(#b2)"/>
<ellipse cx="406" cy="329.2" rx="20" ry="2.6" fill="#021a1a" opacity="0.65" filter="url(#b2)" transform="rotate(3 406 329.2)"/>
<ellipse cx="470" cy="329.2" rx="20" ry="2.6" fill="#021a1a" opacity="0.65" filter="url(#b2)" transform="rotate(-3 470 329.2)"/>
<ellipse cx="438" cy="330.7" rx="20" ry="2.4" fill="#021a1a" opacity="0.23" filter="url(#b2)"/>
<ellipse cx="406" cy="337.0" rx="20" ry="2.6" fill="#021a1a" opacity="0.75" filter="url(#b2)" transform="rotate(3 406 337.0)"/>
<ellipse cx="470" cy="337.0" rx="20" ry="2.6" fill="#021a1a" opacity="0.75" filter="url(#b2)" transform="rotate(-3 470 337.0)"/>
<ellipse cx="438" cy="338.5" rx="20" ry="2.4" fill="#021a1a" opacity="0.27" filter="url(#b2)"/>
<ellipse cx="406" cy="344.8" rx="20" ry="2.6" fill="#021a1a" opacity="0.76" filter="url(#b2)" transform="rotate(3 406 344.8)"/>
<ellipse cx="470" cy="344.8" rx="20" ry="2.6" fill="#021a1a" opacity="0.76" filter="url(#b2)" transform="rotate(-3 470 344.8)"/>
<ellipse cx="438" cy="346.3" rx="20" ry="2.4" fill="#021a1a" opacity="0.27" filter="url(#b2)"/>
<ellipse cx="406" cy="352.6" rx="20" ry="2.6" fill="#021a1a" opacity="0.65" filter="url(#b2)" transform="rotate(3 406 352.6)"/>
<ellipse cx="470" cy="352.6" rx="20" ry="2.6" fill="#021a1a" opacity="0.65" filter="url(#b2)" transform="rotate(-3 470 352.6)"/>
<ellipse cx="438" cy="354.1" rx="20" ry="2.4" fill="#021a1a" opacity="0.23" filter="url(#b2)"/>
<ellipse cx="406" cy="360.4" rx="20" ry="2.6" fill="#021a1a" opacity="0.54" filter="url(#b2)" transform="rotate(3 406 360.4)"/>
<ellipse cx="470" cy="360.4" rx="20" ry="2.6" fill="#021a1a" opacity="0.54" filter="url(#b2)" transform="rotate(-3 470 360.4)"/>
<ellipse cx="438" cy="361.9" rx="20" ry="2.4" fill="#021a1a" opacity="0.19" filter="url(#b2)"/>
<ellipse cx="406" cy="368.2" rx="20" ry="2.6" fill="#021a1a" opacity="0.44" filter="url(#b2)" transform="rotate(3 406 368.2)"/>
<ellipse cx="470" cy="368.2" rx="20" ry="2.6" fill="#021a1a" opacity="0.44" filter="url(#b2)" transform="rotate(-3 470 368.2)"/>
<ellipse cx="438" cy="369.7" rx="20" ry="2.4" fill="#021a1a" opacity="0.15" filter="url(#b2)"/>
<ellipse cx="406" cy="376.0" rx="20" ry="2.6" fill="#021a1a" opacity="0.33" filter="url(#b2)" transform="rotate(3 406 376.0)"/>
<ellipse cx="470" cy="376.0" rx="20" ry="2.6" fill="#021a1a" opacity="0.33" filter="url(#b2)" transform="rotate(-3 470 376.0)"/>
<ellipse cx="438" cy="377.5" rx="20" ry="2.4" fill="#021a1a" opacity="0.12" filter="url(#b2)"/>
<ellipse cx="406" cy="383.8" rx="20" ry="2.6" fill="#021a1a" opacity="0.23" filter="url(#b2)" transform="rotate(3 406 383.8)"/>
<ellipse cx="470" cy="383.8" rx="20" ry="2.6" fill="#021a1a" opacity="0.23" filter="url(#b2)" transform="rotate(-3 470 383.8)"/>
<ellipse cx="438" cy="385.3" rx="20" ry="2.4" fill="#021a1a" opacity="0.08" filter="url(#b2)"/>
<path d="M360,449 C363,440 366,436 368,430 C369,438 372,444 375,449 Z" fill="#fff" filter="url(#b1)"/>
<path d="M502,449 C505,444 507,438 508,430 C510,436 513,440 516,449 Z" fill="#fff" filter="url(#b1)"/>
<rect x="355.5" y="240.5" width="162" height="207.3" fill="#000" filter="url(#sk)" opacity="0.18"/>
</g>
<rect x="133.7" y="240.3" width="58.3" height="19.2" fill="#000"/><text x="140.6" y="254" font-family="'Liberation Sans', Arial, sans-serif" font-size="11" font-weight="bold" font-style="italic" fill="#fff" stroke="#fff" stroke-width="0.35">V</text><text x="147.4" y="257.3" font-family="'Liberation Serif', 'Times New Roman', serif" font-size="7.6" font-weight="bold" font-style="italic" fill="#fff">G</text><text x="154.1" y="254" font-family="'Liberation Sans', Arial, sans-serif" font-size="11.2" font-weight="bold" fill="#fff" stroke="#fff" stroke-width="0.35">= 28 V</text>
<rect x="294.5" y="240.3" width="60.3" height="19.2" fill="#000"/><text x="302.6" y="254" font-family="'Liberation Sans', Arial, sans-serif" font-size="11" font-weight="bold" font-style="italic" fill="#fff" stroke="#fff" stroke-width="0.35">V</text><text x="309.4" y="257.3" font-family="'Liberation Serif', 'Times New Roman', serif" font-size="7.6" font-weight="bold" font-style="italic" fill="#fff">G</text><text x="316.1" y="254" font-family="'Liberation Sans', Arial, sans-serif" font-size="11.2" font-weight="bold" fill="#fff" stroke="#fff" stroke-width="0.35">= 22 V</text>
<rect x="456.8" y="240.3" width="60.7" height="19.2" fill="#000"/><text x="464.0" y="254" font-family="'Liberation Sans', Arial, sans-serif" font-size="11" font-weight="bold" font-style="italic" fill="#fff" stroke="#fff" stroke-width="0.35">V</text><text x="470.8" y="257.3" font-family="'Liberation Serif', 'Times New Roman', serif" font-size="7.6" font-weight="bold" font-style="italic" fill="#fff">G</text><text x="477.5" y="254" font-family="'Liberation Sans', Arial, sans-serif" font-size="11.2" font-weight="bold" fill="#fff" stroke="#fff" stroke-width="0.35">= 14 V</text>
<rect x="29.5" y="240.5" width="488" height="207.3" fill="none" stroke="#333" stroke-width="1"/>
<line x1="192.8" y1="240.5" x2="192.8" y2="447.8" stroke="#222" stroke-width="1.2"/>
<line x1="355" y1="240.5" x2="355" y2="447.8" stroke="#222" stroke-width="1.2"/>
<line x1="29.5" y1="240.6" x2="35" y2="240.6" stroke="#222" stroke-width="1.2"/>
<text x="27.3" y="243.6" text-anchor="end" font-family="'Liberation Sans', Arial, sans-serif" font-size="8.2" font-weight="bold">100</text>
<line x1="29.5" y1="292.4" x2="35" y2="292.4" stroke="#222" stroke-width="1.2"/>
<text x="27.3" y="295.4" text-anchor="end" font-family="'Liberation Sans', Arial, sans-serif" font-size="8.2" font-weight="bold">50</text>
<line x1="29.5" y1="344.2" x2="35" y2="344.2" stroke="#222" stroke-width="1.2"/>
<text x="27.3" y="347.2" text-anchor="end" font-family="'Liberation Sans', Arial, sans-serif" font-size="8.2" font-weight="bold">0</text>
<line x1="29.5" y1="396.0" x2="35" y2="396.0" stroke="#222" stroke-width="1.2"/>
<text x="27.3" y="399.0" text-anchor="end" font-family="'Liberation Sans', Arial, sans-serif" font-size="8.2" font-weight="bold">-50</text>
<line x1="29.5" y1="447.8" x2="35" y2="447.8" stroke="#222" stroke-width="1.2"/>
<text x="27.3" y="450.8" text-anchor="end" font-family="'Liberation Sans', Arial, sans-serif" font-size="8.2" font-weight="bold">-100</text>
<line x1="29.5" y1="266.5" x2="33" y2="266.5" stroke="#222" stroke-width="1"/>
<line x1="29.5" y1="318.3" x2="33" y2="318.3" stroke="#222" stroke-width="1"/>
<line x1="29.5" y1="370.1" x2="33" y2="370.1" stroke="#222" stroke-width="1"/>
<line x1="29.5" y1="421.9" x2="33" y2="421.9" stroke="#222" stroke-width="1"/>
<text transform="translate(11.8,359) rotate(-90)" font-family="'Liberation Sans', Arial, sans-serif" font-size="8" font-weight="bold">V<tspan font-size="6" dy="1.6">S</tspan><tspan dy="-1.6"> (mV)</tspan></text>
<line x1="64.8" y1="447.8" x2="64.8" y2="442.5" stroke="#222" stroke-width="1"/>
<text x="64.8" y="458.8" text-anchor="middle" font-family="'Liberation Sans', Arial, sans-serif" font-size="8" font-weight="bold">-120</text>
<line x1="156.8" y1="447.8" x2="156.8" y2="442.5" stroke="#222" stroke-width="1"/>
<text x="156.8" y="458.8" text-anchor="middle" font-family="'Liberation Sans', Arial, sans-serif" font-size="8" font-weight="bold">120</text>
<line x1="110.8" y1="447.8" x2="110.8" y2="444.5" stroke="#222" stroke-width="1"/>
<text x="109.2" y="461.3" text-anchor="middle" font-family="'Liberation Sans', Arial, sans-serif" font-size="7.3" font-weight="bold">Distance (nm)</text>
<line x1="228.0" y1="447.8" x2="228.0" y2="442.5" stroke="#222" stroke-width="1"/>
<text x="228.0" y="458.8" text-anchor="middle" font-family="'Liberation Sans', Arial, sans-serif" font-size="8" font-weight="bold">-120</text>
<line x1="320.0" y1="447.8" x2="320.0" y2="442.5" stroke="#222" stroke-width="1"/>
<text x="320.0" y="458.8" text-anchor="middle" font-family="'Liberation Sans', Arial, sans-serif" font-size="8" font-weight="bold">120</text>
<line x1="274.0" y1="447.8" x2="274.0" y2="444.5" stroke="#222" stroke-width="1"/>
<text x="272.5" y="461.3" text-anchor="middle" font-family="'Liberation Sans', Arial, sans-serif" font-size="7.3" font-weight="bold">Distance (nm)</text>
<line x1="390.5" y1="447.8" x2="390.5" y2="442.5" stroke="#222" stroke-width="1"/>
<text x="390.5" y="458.8" text-anchor="middle" font-family="'Liberation Sans', Arial, sans-serif" font-size="8" font-weight="bold">-120</text>
<line x1="482.5" y1="447.8" x2="482.5" y2="442.5" stroke="#222" stroke-width="1"/>
<text x="482.5" y="458.8" text-anchor="middle" font-family="'Liberation Sans', Arial, sans-serif" font-size="8" font-weight="bold">120</text>
<line x1="436.5" y1="447.8" x2="436.5" y2="444.5" stroke="#222" stroke-width="1"/>
<text x="435.0" y="461.3" text-anchor="middle" font-family="'Liberation Sans', Arial, sans-serif" font-size="7.3" font-weight="bold">Distance (nm)</text>
<rect x="519" y="286" width="9.5" height="102" fill="url(#cbC)" stroke="#444" stroke-width="0.8"/>
<text x="518.5" y="282.5" font-family="'Liberation Sans', Arial, sans-serif" font-size="10" font-weight="bold">High</text>
<text x="518.5" y="398" font-family="'Liberation Sans', Arial, sans-serif" font-size="10" font-weight="bold">Low</text>
<text transform="translate(530.3,321.8) rotate(90)" font-family="'Liberation Serif', 'Times New Roman', serif" font-size="12" font-weight="bold">dI/dV<tspan font-size="8.5" dy="2.5">S</tspan></text>
</svg>
</body></html>
